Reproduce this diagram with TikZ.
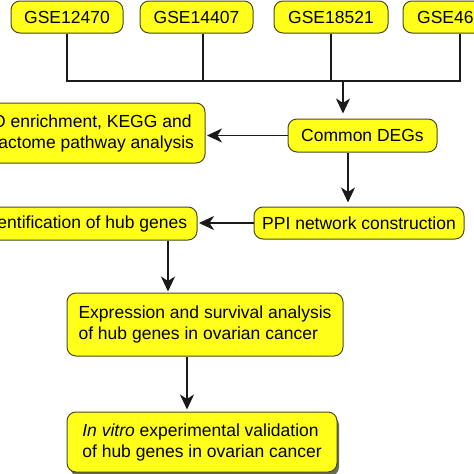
\documentclass[tikz,border=0pt]{standalone}
\usepackage{fontspec}
\setmainfont{Liberation Sans}
\usetikzlibrary{arrows.meta}
\definecolor{boxfill}{HTML}{FFFF1A}
\definecolor{boxline}{HTML}{4A4A1E}
\definecolor{linecol}{HTML}{1A1A1A}
\definecolor{shadowcol}{HTML}{6A6A5A}
\tikzset{
  box/.style={draw=boxline, fill=boxfill, rounded corners=9pt, line width=1pt,
    minimum height=32pt, inner sep=0pt, font=\fontsize{17.5}{21}\selectfont},
  conn/.style={line width=1.9pt, draw=linecol},
  arr/.style={conn, -{Stealth[length=15pt,width=14pt,inset=4.5pt]}},
}
\begin{document}
\begin{tikzpicture}[x=1pt,y=-1pt]
\useasboundingbox (0,0) rectangle (474,474);
\fill[white] (0,0) rectangle (474,474);
\clip (0,0) rectangle (474,474);

\node[box, minimum width=112pt] (G1) at (67,17) {GSE12470};
\node[box, minimum width=113pt] (G2) at (196.5,17) {GSE14407};
\node[box, minimum width=114pt] (G3) at (331,17) {GSE18521};
\node[box, minimum width=114pt] (G4) at (460,17) {GSE46169};

\node[box, minimum width=149pt, minimum height=33pt] (DEG) at (362.5,135.5) {Common DEGs};
\node[box, minimum width=240pt, minimum height=60pt, align=center] (GO) at (85,133)
  {GO enrichment, KEGG and\\Reactome pathway analysis};
\node[box, minimum width=210pt] (PPI) at (359,223) {PPI network construction};
\node[box, minimum width=224pt, minimum height=33pt] (HUB) at (85,223.5) {Identification of hub genes};
\node[box, minimum width=276pt, minimum height=63pt, align=left] (EXP) at (205,324.5)
  {Expression and survival analysis\\of hub genes in ovarian cancer};
\fill[shadowcol, rounded corners=9pt] (70,416) rectangle (339,476);
\node[box, minimum width=270pt, minimum height=60pt, align=left] (VIT) at (202,442)
  {\textit{In vitro} experimental validation\\of hub genes in ovarian cancer};

\coordinate (h1) at (67,81);
\coordinate (h2) at (203,81);
\coordinate (h3) at (331,81);
\coordinate (h4) at (460,81);
\coordinate (hd) at (343,81);

\draw[conn] (h1 |- G1.south) -- (h1);
\draw[conn] (h2 |- G2.south) -- (h2);
\draw[conn] (h3 |- G3.south) -- (h3);
\draw[conn] (h4 |- G4.south) -- (h4);
\draw[conn] ([xshift=-0.95pt]h1) -- ([xshift=0.95pt]h4);
\draw[arr, shorten >=5pt] (hd) -- (hd |- DEG.north);

\draw[arr, shorten >=1.5pt] (DEG.west) -- (DEG.west -| GO.east);
\draw[arr, shorten >=4pt] ([xshift=-14.5pt]DEG.south) -- ([xshift=-14.5pt]DEG.south |- PPI.north);
\draw[arr, shorten >=1.5pt] (PPI.west) -- (PPI.west -| HUB.east);
\draw[arr, shorten >=1pt] ([xshift=83pt]HUB.south) -- ([xshift=83pt]HUB.south |- EXP.north);
\draw[arr, shorten >=2pt] ([xshift=-18pt]EXP.south) -- ([xshift=-18pt]EXP.south |- VIT.north);
\end{tikzpicture}
\end{document}
